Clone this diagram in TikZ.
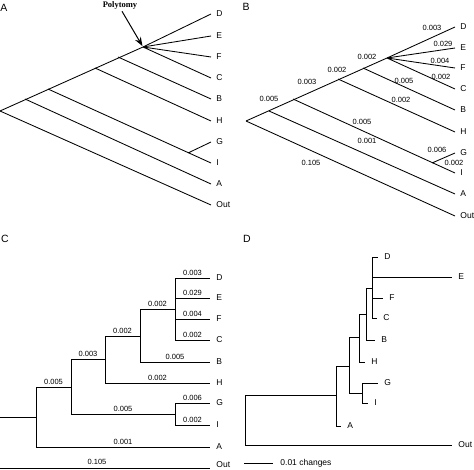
\documentclass[tikz,border=0pt]{standalone}
\usepackage{fontspec}
\setmainfont{Liberation Sans}
\newfontfamily\polyfont{Liberation Serif}
\usetikzlibrary{positioning,arrows.meta}
\tikzset{
  leaf/.style={inner sep=0pt,font=\fontsize{8.5}{10}\selectfont},
  blen/.style={inner sep=0pt,font=\fontsize{7.5}{9}\selectfont},
  panel/.style={inner sep=0pt,font=\fontsize{10.5}{12}\selectfont},
}
\begin{document}
\begin{tikzpicture}[x=1pt,y=-1pt,>=stealth,line width=0.85pt]
\useasboundingbox (0,0) rectangle (474,470);
% A: cladogram with polytomy
\node[panel] (pA) at (4,8) {A};
\coordinate (aR) at (0,111);
\coordinate (aA) at (25,99);
\coordinate (aGI) at (48,89);
\coordinate (aH) at (95,68);
\coordinate (aB) at (118,57);
\coordinate (aP) at (143,47);
\coordinate (aGIn) at (188,153);
\foreach \t/\y in {D/14,E/36,F/57,C/78,B/99,H/121,G/142,I/163,A/184,Out/205}
  \coordinate (aT\t) at (211,\y);
\draw (aR) -- (aP) -- (aTD);
\draw (aP) -- (aTE) (aP) -- (aTF) (aP) -- (aTC);
\draw (aB) -- (aTB) (aH) -- (aTH) (aGI) -- (aTI) (aGIn) -- (aTG);
\draw (aA) -- (aTA) (aR) -- (aTOut);
\foreach \t in {D,E,F,C,B,H,G,I,A,Out}
  \node[leaf,right=5pt of aT\t] (aL\t) {\t};
\node[inner sep=0pt,font=\polyfont\bfseries\fontsize{8.5}{10}\selectfont] (poly) at (120,5) {Polytomy};
\draw[-{Stealth[length=9pt,width=6.5pt]},line width=1pt,shorten >=1pt] ([xshift=2pt,yshift=-2pt]poly.south) -- (aP);
% B: same tree with branch lengths
\node[panel] (pB) at (246,7) {B};
\coordinate (bR) at (246,121);
\coordinate (bA) at (269,111);
\coordinate (bGI) at (293,99);
\coordinate (bH) at (338,79);
\coordinate (bB) at (363,68);
\coordinate (bP) at (387,58);
\coordinate (bGIn) at (432,163);
\foreach \t/\y in {D/27,E/48,F/68,C/89,B/110,H/132,G/153,I/173,A/194,Out/216}
  \coordinate (bT\t) at (455,\y);
\draw (bR) -- (bP) -- (bTD);
\draw (bP) -- (bTE) (bP) -- (bTF) (bP) -- (bTC);
\draw (bB) -- (bTB) (bH) -- (bTH) (bGI) -- (bTI) (bGIn) -- (bTG);
\draw (bA) -- (bTA) (bR) -- (bTOut);
\foreach \t in {D,E,F,C,B,H,G,I,A,Out}
  \node[leaf,right=5pt of bT\t] (bL\t) {\t};
\foreach \l/\x/\y in {0.005/269/99,0.003/307/82,0.002/337/70,0.002/367/57,
    0.003/432/28,0.029/443/44,0.004/440/61,0.002/441/77,0.005/404/81,0.002/401/100,
    0.005/362/122,0.001/367/141,0.105/311/163,0.006/437/150,0.002/454/163}
  \node[blen] at (\x,\y) {\l};
% C: phylogram, rectangular
\node[panel] (pC) at (5,239) {C};
\coordinate (cR) at (0,417);
\coordinate (c1) at (36,417);
\coordinate (c2) at (71,387);
\coordinate (c3) at (105,359);
\coordinate (c4) at (140,336);
\coordinate (c5) at (175,309);
\coordinate (cGI) at (175,414);
\coordinate (cO) at (0,468);
\foreach \t/\y in {D/278,E/298,F/319,C/340,B/362,H/383,G/403,I/425,A/447,Out/468}
  \coordinate (cT\t) at (210,\y);
\draw (cR) -- (c1);
\draw (c1) |- node[blen,pos=0.75,above=2pt] {0.005} (c2);
\draw (c1) |- node[blen,pos=0.75,above=2pt] {0.001} (cTA);
\draw (c2) |- node[blen,pos=0.75,above=2pt] {0.003} (c3);
\draw (c2) |- node[blen,pos=0.75,above=2pt] {0.005} (cGI);
\draw (c3) |- node[blen,pos=0.75,above=2pt] {0.002} (c4);
\draw (c3) |- node[blen,pos=0.75,above=2pt] {0.002} (cTH);
\draw (c4) |- node[blen,pos=0.75,above=2pt] {0.002} (c5);
\draw (c4) |- node[blen,pos=0.75,above=2pt] {0.005} (cTB);
\draw (cGI) |- node[blen,pos=0.75,above=2pt] {0.006} (cTG);
\draw (cGI) |- node[blen,pos=0.75,above=2pt] {0.002} (cTI);
\foreach \t/\l in {D/0.003,E/0.029,F/0.004,C/0.002}
  \draw (c5) |- node[blen,pos=0.75,above=2pt] {\l} (cT\t);
\draw (cO) -- (cTOut);
\node[blen] at (97,462) {0.105};
\foreach \t in {D,E,F,C,B,H,G,I,A}
  \node[leaf,right=6pt of cT\t] (cL\t) {\t};
\node[leaf,right=6pt of cTOut,yshift=3pt] (cLOut) {Out};
% D: phylogram drawn to scale
\node[panel] (pD) at (247,239) {D};
\coordinate (d1) at (245,420);
\coordinate (d2) at (336,395);
\coordinate (d3) at (349,366);
\coordinate (d4) at (359,337);
\coordinate (d5) at (366,314);
\coordinate (d6) at (372,288);
\coordinate (dGI) at (362,393);
\foreach \t/\x/\y in {D/378/257,E/452/277,F/383/298,C/377/318,B/375/340,
    H/365/362,G/378/383,I/368/403,A/341/426,Out/452/445}
  \coordinate (dT\t) at (\x,\y);
\draw (d1) |- (d2) (d1) |- (dTOut);
\draw (d2) |- (d3) (d2) |- (dTA);
\draw (d3) |- (d4) (d3) |- (dGI);
\draw (dGI) |- (dTG) (dGI) |- (dTI);
\draw (d4) |- (d5) (d4) |- (dTH);
\draw (d5) |- (d6) (d5) |- (dTB);
\draw (d6) |- (dTD) (d6) |- (dTE) (d6) |- (dTF) (d6) |- (dTC);
\foreach \t in {D,E,F,C,B,H,G,I,A,Out}
  \node[leaf,right=6pt of dT\t] (dL\t) {\t};
\coordinate (sb1) at (244,463);
\coordinate (sb2) at (273,463);
\draw (sb1) -- (sb2);
\node[leaf,right=7pt of sb2] (sbL) {0.01 changes};
\end{tikzpicture}
\end{document}
